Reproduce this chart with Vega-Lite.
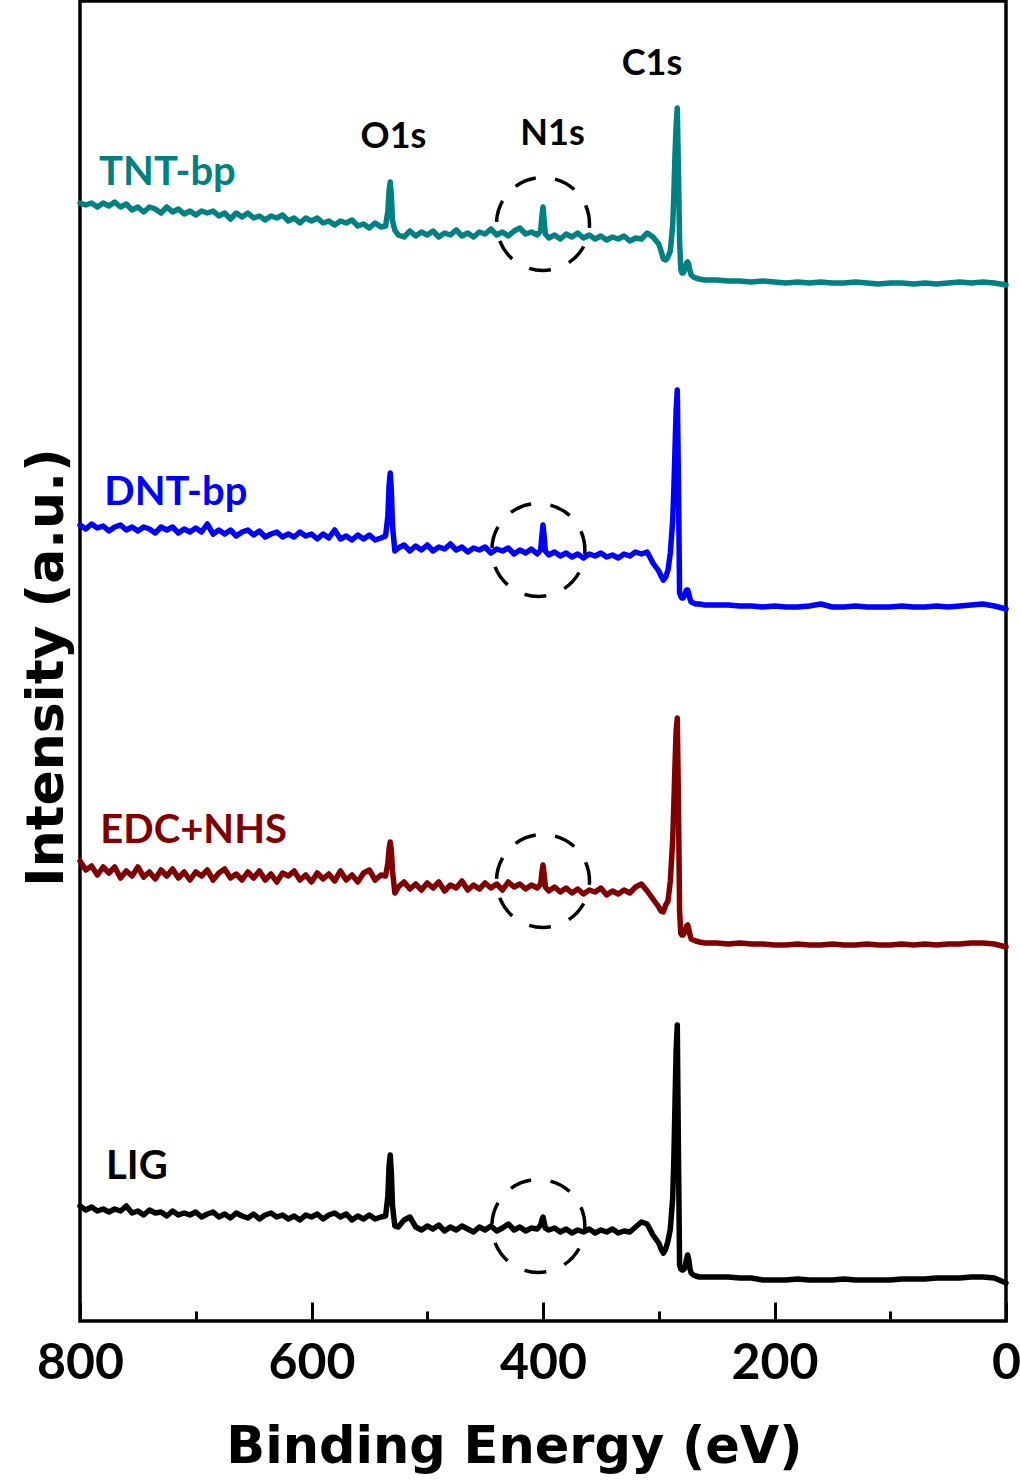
{
  "$schema": "https://vega.github.io/schema/vega-lite/v6.json",
  "width": 926,
  "height": 1320,
  "autosize": {"type": "none"},
  "padding": {"left": 80, "top": 1, "right": 14, "bottom": 161},
  "background": "white",
  "config": {
    "view": {"stroke": "black", "strokeWidth": 3.5},
    "font": "Lato"
  },
  "datasets": {
    "spectra": [
      {"e":800,"TNT":1118,"DNT":796,"EDC":460,"LIG":115},
      {"e":795,"TNT":1116,"DNT":792,"EDC":451,"LIG":111},
      {"e":790,"TNT":1118,"DNT":797,"EDC":455,"LIG":114},
      {"e":785,"TNT":1114,"DNT":793,"EDC":446,"LIG":110},
      {"e":780,"TNT":1118,"DNT":795,"EDC":454,"LIG":112},
      {"e":775,"TNT":1115,"DNT":790,"EDC":448,"LIG":109},
      {"e":770,"TNT":1119,"DNT":794,"EDC":454,"LIG":112},
      {"e":765,"TNT":1114,"DNT":796,"EDC":443,"LIG":110},
      {"e":760,"TNT":1117,"DNT":791,"EDC":450,"LIG":115},
      {"e":755,"TNT":1111,"DNT":794,"EDC":445,"LIG":108},
      {"e":750,"TNT":1114,"DNT":790,"EDC":454,"LIG":110},
      {"e":745,"TNT":1109,"DNT":794,"EDC":444,"LIG":106},
      {"e":740,"TNT":1114,"DNT":792,"EDC":449,"LIG":111},
      {"e":735,"TNT":1112,"DNT":788,"EDC":442,"LIG":108},
      {"e":730,"TNT":1108,"DNT":794,"EDC":451,"LIG":109},
      {"e":725,"TNT":1114,"DNT":791,"EDC":445,"LIG":105},
      {"e":720,"TNT":1109,"DNT":794,"EDC":452,"LIG":110},
      {"e":715,"TNT":1112,"DNT":788,"EDC":443,"LIG":106},
      {"e":710,"TNT":1107,"DNT":792,"EDC":449,"LIG":108},
      {"e":705,"TNT":1110,"DNT":789,"EDC":441,"LIG":106},
      {"e":700,"TNT":1106,"DNT":793,"EDC":449,"LIG":109},
      {"e":695,"TNT":1110,"DNT":789,"EDC":445,"LIG":104},
      {"e":690,"TNT":1108,"DNT":797,"EDC":451,"LIG":107},
      {"e":685,"TNT":1110,"DNT":787,"EDC":441,"LIG":109},
      {"e":680,"TNT":1105,"DNT":791,"EDC":448,"LIG":104},
      {"e":675,"TNT":1108,"DNT":787,"EDC":452,"LIG":107},
      {"e":670,"TNT":1102,"DNT":791,"EDC":443,"LIG":103},
      {"e":665,"TNT":1108,"DNT":785,"EDC":447,"LIG":108},
      {"e":660,"TNT":1104,"DNT":789,"EDC":441,"LIG":105},
      {"e":655,"TNT":1108,"DNT":791,"EDC":449,"LIG":103},
      {"e":650,"TNT":1103,"DNT":786,"EDC":443,"LIG":107},
      {"e":645,"TNT":1105,"DNT":790,"EDC":450,"LIG":102},
      {"e":640,"TNT":1101,"DNT":784,"EDC":441,"LIG":106},
      {"e":635,"TNT":1105,"DNT":787,"EDC":447,"LIG":108},
      {"e":630,"TNT":1103,"DNT":789,"EDC":439,"LIG":104},
      {"e":625,"TNT":1106,"DNT":784,"EDC":448,"LIG":106},
      {"e":620,"TNT":1100,"DNT":787,"EDC":445,"LIG":102},
      {"e":615,"TNT":1103,"DNT":784,"EDC":450,"LIG":105},
      {"e":610,"TNT":1098,"DNT":789,"EDC":441,"LIG":101},
      {"e":605,"TNT":1103,"DNT":785,"EDC":446,"LIG":106},
      {"e":600,"TNT":1100,"DNT":787,"EDC":439,"LIG":104},
      {"e":595,"TNT":1103,"DNT":782,"EDC":448,"LIG":107},
      {"e":590,"TNT":1098,"DNT":787,"EDC":442,"LIG":102},
      {"e":585,"TNT":1100,"DNT":783,"EDC":447,"LIG":106},
      {"e":580,"TNT":1096,"DNT":791,"EDC":440,"LIG":108},
      {"e":575,"TNT":1100,"DNT":782,"EDC":450,"LIG":104},
      {"e":570,"TNT":1098,"DNT":785,"EDC":441,"LIG":107},
      {"e":565,"TNT":1101,"DNT":781,"EDC":446,"LIG":101},
      {"e":560,"TNT":1095,"DNT":786,"EDC":439,"LIG":105},
      {"e":555,"TNT":1097,"DNT":782,"EDC":448,"LIG":102},
      {"e":550,"TNT":1093,"DNT":786,"EDC":451,"LIG":106},
      {"e":545,"TNT":1098,"DNT":781,"EDC":441,"LIG":102},
      {"e":540,"TNT":1094,"DNT":783,"EDC":446,"LIG":104},
      {"e":536,"TNT":1095,"DNT":785,"EDC":445,"LIG":105},
      {"e":534,"TNT":1110,"DNT":805,"EDC":458,"LIG":125},
      {"e":533,"TNT":1130,"DNT":835,"EDC":472,"LIG":155},
      {"e":532,"TNT":1139,"DNT":848,"EDC":479,"LIG":166},
      {"e":531,"TNT":1125,"DNT":830,"EDC":470,"LIG":148},
      {"e":530,"TNT":1100,"DNT":795,"EDC":450,"LIG":115},
      {"e":528,"TNT":1091,"DNT":770,"EDC":428,"LIG":95},
      {"e":525,"TNT":1086,"DNT":773,"EDC":434,"LIG":94},
      {"e":520,"TNT":1084,"DNT":776,"EDC":439,"LIG":101},
      {"e":515,"TNT":1090,"DNT":770,"EDC":432,"LIG":104},
      {"e":510,"TNT":1085,"DNT":775,"EDC":437,"LIG":94},
      {"e":505,"TNT":1089,"DNT":771,"EDC":431,"LIG":91},
      {"e":500,"TNT":1086,"DNT":776,"EDC":438,"LIG":95},
      {"e":495,"TNT":1090,"DNT":770,"EDC":433,"LIG":92},
      {"e":490,"TNT":1084,"DNT":774,"EDC":439,"LIG":96},
      {"e":485,"TNT":1088,"DNT":772,"EDC":430,"LIG":90},
      {"e":480,"TNT":1086,"DNT":777,"EDC":436,"LIG":94},
      {"e":475,"TNT":1091,"DNT":771,"EDC":433,"LIG":91},
      {"e":470,"TNT":1085,"DNT":774,"EDC":440,"LIG":95},
      {"e":465,"TNT":1088,"DNT":769,"EDC":431,"LIG":92},
      {"e":460,"TNT":1084,"DNT":773,"EDC":436,"LIG":89},
      {"e":455,"TNT":1089,"DNT":771,"EDC":432,"LIG":94},
      {"e":450,"TNT":1087,"DNT":774,"EDC":438,"LIG":91},
      {"e":445,"TNT":1092,"DNT":768,"EDC":433,"LIG":95},
      {"e":440,"TNT":1086,"DNT":772,"EDC":437,"LIG":90},
      {"e":435,"TNT":1089,"DNT":770,"EDC":431,"LIG":93},
      {"e":430,"TNT":1085,"DNT":773,"EDC":439,"LIG":97},
      {"e":425,"TNT":1090,"DNT":767,"EDC":434,"LIG":91},
      {"e":420,"TNT":1093,"DNT":771,"EDC":437,"LIG":94},
      {"e":415,"TNT":1087,"DNT":768,"EDC":432,"LIG":90},
      {"e":410,"TNT":1089,"DNT":772,"EDC":436,"LIG":93},
      {"e":405,"TNT":1086,"DNT":767,"EDC":433,"LIG":92},
      {"e":402,"TNT":1090,"DNT":771,"EDC":437,"LIG":96},
      {"e":401,"TNT":1104,"DNT":785,"EDC":448,"LIG":101},
      {"e":400,"TNT":1114,"DNT":796,"EDC":456,"LIG":104},
      {"e":399,"TNT":1100,"DNT":784,"EDC":447,"LIG":99},
      {"e":398,"TNT":1087,"DNT":770,"EDC":434,"LIG":93},
      {"e":395,"TNT":1083,"DNT":766,"EDC":430,"LIG":91},
      {"e":390,"TNT":1086,"DNT":769,"EDC":434,"LIG":93},
      {"e":385,"TNT":1082,"DNT":765,"EDC":429,"LIG":89},
      {"e":380,"TNT":1087,"DNT":768,"EDC":433,"LIG":92},
      {"e":375,"TNT":1084,"DNT":764,"EDC":428,"LIG":88},
      {"e":370,"TNT":1088,"DNT":767,"EDC":432,"LIG":91},
      {"e":365,"TNT":1083,"DNT":763,"EDC":427,"LIG":89},
      {"e":360,"TNT":1086,"DNT":767,"EDC":431,"LIG":92},
      {"e":355,"TNT":1082,"DNT":765,"EDC":429,"LIG":88},
      {"e":350,"TNT":1085,"DNT":768,"EDC":433,"LIG":91},
      {"e":345,"TNT":1081,"DNT":764,"EDC":426,"LIG":89},
      {"e":340,"TNT":1084,"DNT":766,"EDC":430,"LIG":92},
      {"e":335,"TNT":1082,"DNT":763,"EDC":427,"LIG":88},
      {"e":330,"TNT":1085,"DNT":767,"EDC":431,"LIG":90},
      {"e":325,"TNT":1080,"DNT":765,"EDC":428,"LIG":89},
      {"e":320,"TNT":1083,"DNT":769,"EDC":434,"LIG":94},
      {"e":315,"TNT":1082,"DNT":767,"EDC":437,"LIG":99},
      {"e":310,"TNT":1088,"DNT":769,"EDC":430,"LIG":97},
      {"e":305,"TNT":1084,"DNT":758,"EDC":422,"LIG":86},
      {"e":300,"TNT":1077,"DNT":750,"EDC":414,"LIG":78},
      {"e":298,"TNT":1070,"DNT":745,"EDC":410,"LIG":72},
      {"e":296,"TNT":1062,"DNT":741,"EDC":409,"LIG":68},
      {"e":294,"TNT":1061,"DNT":744,"EDC":416,"LIG":72},
      {"e":292,"TNT":1064,"DNT":751,"EDC":420,"LIG":80},
      {"e":290,"TNT":1070,"DNT":768,"EDC":440,"LIG":92},
      {"e":288,"TNT":1095,"DNT":800,"EDC":480,"LIG":122},
      {"e":287,"TNT":1125,"DNT":830,"EDC":515,"LIG":160},
      {"e":286,"TNT":1165,"DNT":870,"EDC":555,"LIG":215},
      {"e":285,"TNT":1195,"DNT":910,"EDC":590,"LIG":270},
      {"e":284,"TNT":1213,"DNT":931,"EDC":603,"LIG":296},
      {"e":283,"TNT":1150,"DNT":840,"EDC":520,"LIG":170},
      {"e":282,"TNT":1080,"DNT":728,"EDC":410,"LIG":56},
      {"e":281,"TNT":1052,"DNT":725,"EDC":388,"LIG":52},
      {"e":280,"TNT":1048,"DNT":723,"EDC":386,"LIG":51},
      {"e":279,"TNT":1048,"DNT":723,"EDC":386,"LIG":51},
      {"e":278,"TNT":1050,"DNT":725,"EDC":388,"LIG":52},
      {"e":277,"TNT":1054,"DNT":728,"EDC":391,"LIG":56},
      {"e":276,"TNT":1058,"DNT":731,"EDC":395,"LIG":62},
      {"e":275,"TNT":1059,"DNT":731,"EDC":396,"LIG":66},
      {"e":274,"TNT":1056,"DNT":727,"EDC":392,"LIG":61},
      {"e":273,"TNT":1050,"DNT":722,"EDC":386,"LIG":52},
      {"e":272,"TNT":1046,"DNT":719,"EDC":382,"LIG":48},
      {"e":270,"TNT":1044,"DNT":718,"EDC":381,"LIG":46},
      {"e":268,"TNT":1043,"DNT":717,"EDC":380,"LIG":45},
      {"e":265,"TNT":1042,"DNT":717,"EDC":379,"LIG":44},
      {"e":260,"TNT":1041,"DNT":716,"EDC":378,"LIG":44},
      {"e":250,"TNT":1041,"DNT":716,"EDC":378,"LIG":44},
      {"e":240,"TNT":1040,"DNT":716,"EDC":377,"LIG":44},
      {"e":230,"TNT":1040,"DNT":715,"EDC":378,"LIG":43},
      {"e":220,"TNT":1039,"DNT":715,"EDC":377,"LIG":43},
      {"e":210,"TNT":1040,"DNT":714,"EDC":377,"LIG":41},
      {"e":200,"TNT":1039,"DNT":715,"EDC":376,"LIG":41},
      {"e":190,"TNT":1038,"DNT":714,"EDC":376,"LIG":41},
      {"e":180,"TNT":1039,"DNT":714,"EDC":377,"LIG":42},
      {"e":170,"TNT":1038,"DNT":715,"EDC":376,"LIG":41},
      {"e":160,"TNT":1039,"DNT":717,"EDC":376,"LIG":41},
      {"e":150,"TNT":1038,"DNT":714,"EDC":377,"LIG":41},
      {"e":140,"TNT":1038,"DNT":714,"EDC":376,"LIG":42},
      {"e":130,"TNT":1039,"DNT":715,"EDC":376,"LIG":41},
      {"e":120,"TNT":1038,"DNT":714,"EDC":377,"LIG":41},
      {"e":110,"TNT":1037,"DNT":714,"EDC":376,"LIG":41},
      {"e":100,"TNT":1038,"DNT":714,"EDC":376,"LIG":41},
      {"e":90,"TNT":1038,"DNT":715,"EDC":377,"LIG":42},
      {"e":80,"TNT":1037,"DNT":714,"EDC":376,"LIG":42},
      {"e":70,"TNT":1038,"DNT":714,"EDC":377,"LIG":42},
      {"e":60,"TNT":1037,"DNT":715,"EDC":376,"LIG":43},
      {"e":50,"TNT":1038,"DNT":714,"EDC":377,"LIG":43},
      {"e":40,"TNT":1039,"DNT":715,"EDC":377,"LIG":43},
      {"e":30,"TNT":1038,"DNT":716,"EDC":378,"LIG":44},
      {"e":20,"TNT":1039,"DNT":717,"EDC":378,"LIG":44},
      {"e":10,"TNT":1038,"DNT":715,"EDC":377,"LIG":43},
      {"e":0,"TNT":1036,"DNT":712,"EDC":374,"LIG":38}
    ],
    "circles": [
      {"e":400,"i":1097},
      {"e":404,"i":771},
      {"e":400,"i":440},
      {"e":404,"i":95}
    ],
    "seriesLabels": [
      {"s":"TNT","t":"TNT-bp","e":783.5,"i":1136},
      {"s":"DNT","t":"DNT-bp","e":779,"i":816},
      {"s":"EDC","t":"EDC+NHS","e":782.5,"i":478},
      {"s":"LIG","t":"LIG","e":777.5,"i":142}
    ],
    "peakLabels": [
      {"t":"O1s","e":529.2,"i":1173},
      {"t":"N1s","e":391.8,"i":1176},
      {"t":"C1s","e":305.8,"i":1246}
    ]
  },
  "encoding": {
    "x": {
      "field": "e",
      "type": "quantitative",
      "scale": {"domain": [0, 800], "reverse": true, "nice": false, "zero": false},
      "axis": {
        "title": "Binding Energy (eV)",
        "values": [800, 700, 600, 500, 400, 300, 200, 100, 0],
        "labelExpr": "datum.value % 200 === 0 ? datum.label : ''",
        "tickSize": {"condition": {"test": "datum.value % 200 === 0", "value": -19}, "value": -10},
        "tickWidth": 3,
        "tickColor": "black",
        "domain": false,
        "grid": false,
        "labelFlush": false,
        "labelOverlap": false,
        "labelBound": false,
        "labelFont": "Lato",
        "labelFontSize": 50,
        "labelFontWeight": "bold",
        "labelColor": "black",
        "labelPadding": 36,
        "titleFont": "DejaVu Sans",
        "titleFontSize": 51,
        "titleFontWeight": "bold",
        "titleColor": "black",
        "titleX": 434,
        "titleY": 141,
        "titleBaseline": "alphabetic",
        "titleAlign": "center"
      }
    },
    "y": {
      "field": "i",
      "type": "quantitative",
      "scale": {"domain": [0, 1320], "nice": false, "zero": false},
      "axis": {
        "title": "Intensity (a.u.)",
        "ticks": false,
        "labels": false,
        "domain": false,
        "grid": false,
        "titleFont": "DejaVu Sans",
        "titleFontSize": 52,
        "titleFontWeight": "bold",
        "titleColor": "black",
        "titleX": -17.5,
        "titleY": 666,
        "titleAngle": -90,
        "titleBaseline": "alphabetic",
        "titleAlign": "center"
      }
    }
  },
  "layer": [
    {
      "data": {"name": "spectra"},
      "transform": [{"fold": ["TNT", "DNT", "EDC", "LIG"], "as": ["s", "i"]}],
      "mark": {"type": "line", "strokeWidth": 5.5, "strokeJoin": "round", "strokeCap": "round"},
      "encoding": {
        "color": {
          "field": "s",
          "type": "nominal",
          "scale": {"domain": ["TNT", "DNT", "EDC", "LIG"], "range": ["#008080", "#0000ff", "#800000", "#000000"]},
          "legend": null
        }
      }
    },
    {
      "data": {"name": "circles"},
      "mark": {"type": "point", "shape": "circle", "filled": false, "size": 8650, "stroke": "black", "strokeWidth": 3.5, "strokeDash": [22, 19.5], "strokeDashOffset": 18, "opacity": 1}
    },
    {
      "data": {"name": "seriesLabels"},
      "mark": {"type": "text", "align": "left", "baseline": "alphabetic", "font": "Lato", "fontSize": 40, "fontWeight": "bold"},
      "encoding": {
        "text": {"field": "t"},
        "color": {
          "field": "s",
          "type": "nominal",
          "scale": {"domain": ["TNT", "DNT", "EDC", "LIG"], "range": ["#008080", "#0000ff", "#800000", "#000000"]},
          "legend": null
        }
      }
    },
    {
      "data": {"name": "peakLabels"},
      "mark": {"type": "text", "align": "center", "baseline": "alphabetic", "font": "Lato", "fontSize": 36, "fontWeight": "bold", "color": "black"},
      "encoding": {
        "text": {"field": "t"}
      }
    }
  ]
}
